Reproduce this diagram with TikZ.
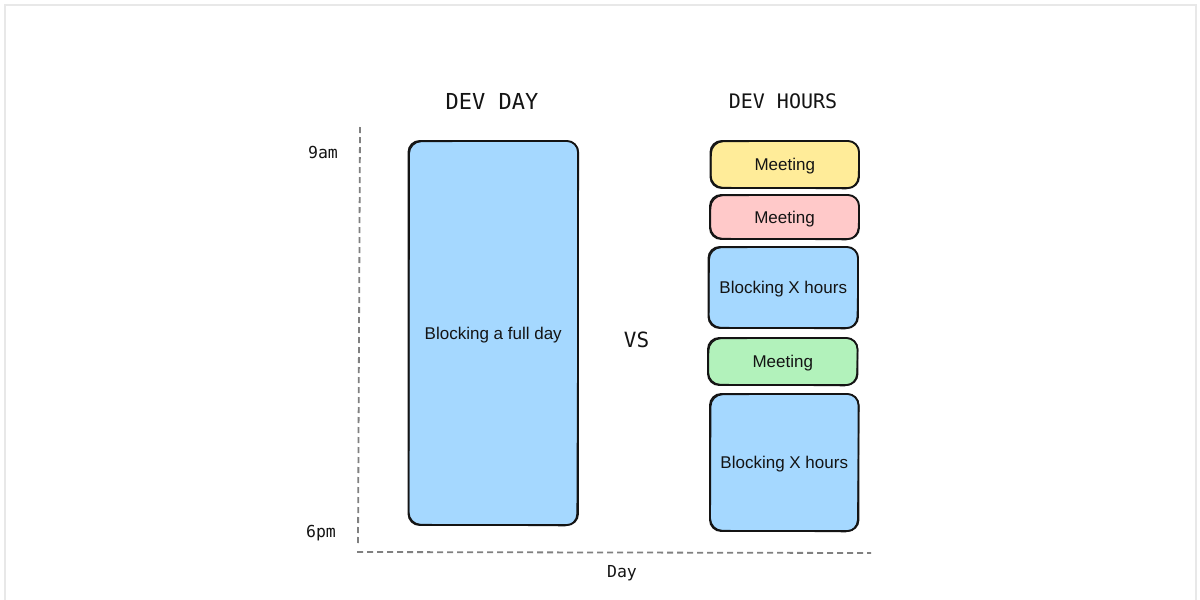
\documentclass[tikz,border=0pt]{standalone}
\usepackage{fontspec}
\setmainfont{Liberation Sans}
\newfontfamily\monof{DejaVu Sans Mono}
\definecolor{blockblue}{HTML}{A5D8FF}
\definecolor{meetyellow}{HTML}{FFEC99}
\definecolor{meetpink}{HTML}{FFC9C9}
\definecolor{meetgreen}{HTML}{B2F2BB}
\definecolor{inkline}{HTML}{141414}
\definecolor{axisgray}{HTML}{808080}
\definecolor{framegray}{HTML}{E8E8E8}
\tikzset{
  fillbox/.style={fill=#1,rounded corners=11pt,inner sep=0pt},
  ink/.style={draw=inkline,line width=1.8pt,rounded corners=11pt},
  inkb/.style={draw=inkline,line width=1.2pt,rounded corners=12pt},
  axisline/.style={draw=axisgray,line width=1.8pt,dash pattern=on 6pt off 4pt},
  sanslabel/.style={font=\fontsize{17}{20}\selectfont,text=inkline,inner sep=0pt},
  monolabel/.style={font=\monof\fontsize{#1}{20}\selectfont,text=inkline,inner sep=0pt},
}
% x0 y0 x1 y1 colour name label
\newcommand{\sketchbox}[7]{%
  \path[fillbox=#5] (#1,#2) rectangle (#3,#4);
  \draw[ink] (#1,#2) rectangle (#3,#4);
  \draw[inkb] (#1+0.8,#2+0.6) -- (#1+0.3,#4-0.6) -- (#3-1,#4+0.8) -- (#3+0.6,#2-0.2) -- cycle;
  \node[sanslabel] (#6) at ({(#1+#3)/2},{(#2+#4)/2+2}) {#7};
}
\begin{document}
\begin{tikzpicture}[x=1pt,y=-1pt]
\useasboundingbox (0,0) rectangle (1200,600);
\fill[white] (0,0) rectangle (1200,600);
\draw[framegray,line width=2pt] (5,600) -- (5,5) -- (1196,5) -- (1196,600);
\coordinate (axtop) at (360,127);
\coordinate (axcorner) at (358,546);
\coordinate (axbl) at (357,552);
\coordinate (axright) at (871,553);
\draw[axisline] (axtop) -- (axcorner);
\draw[axisline] (axbl) -- (axright);
\sketchbox{408.5}{141}{578}{525}{blockblue}{day}{Blocking a full day}
\sketchbox{710.5}{141}{859}{188}{meetyellow}{m1}{Meeting}
\sketchbox{710}{195}{859}{239}{meetpink}{m2}{Meeting}
\sketchbox{708.5}{247}{858}{328}{blockblue}{b1}{Blocking X hours}
\sketchbox{708}{338}{857.5}{385}{meetgreen}{m3}{Meeting}
\sketchbox{710}{394}{858.5}{531}{blockblue}{b2}{Blocking X hours}
\node[monolabel=22] (t1) at (492,101) {DEV DAY};
\node[monolabel=20] (t2) at (783,101) {DEV HOURS};
\node[monolabel=16.5] (l9) at (323,152) {9am};
\node[monolabel=16.5] (l6) at (321,533) {6pm};
\node[monolabel=21] (vs) at (636.5,340) {VS};
\node[monolabel=16.5] (dl) at (622,573.5) {Day};
\end{tikzpicture}
\end{document}
